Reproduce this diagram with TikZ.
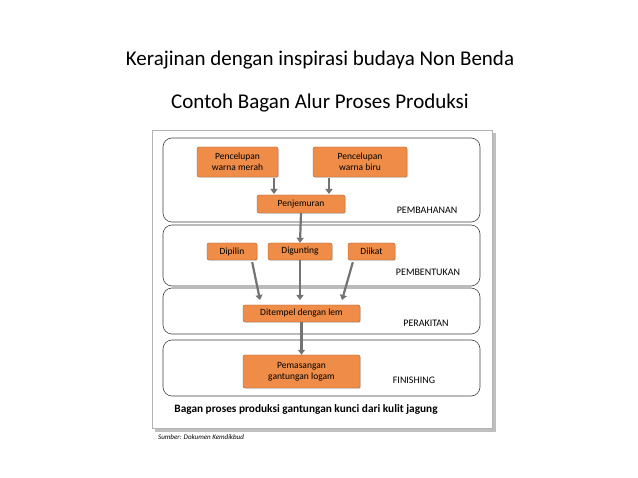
\documentclass[tikz,border=0pt]{standalone}
\usepackage{fontspec}
\setmainfont{Carlito}
\usetikzlibrary{arrows.meta,shadows}
\definecolor{org}{RGB}{238,140,72}
\definecolor{arr}{RGB}{115,115,115}
\tikzset{
 pb/.style={draw=org!70!black,fill=org,rounded corners=2pt,align=center,font=\fontsize{9.5}{11}\selectfont,inner sep=0pt,drop shadow={opacity=0.3,shadow xshift=1pt,shadow yshift=-1pt}},
 band/.style={draw=black!75,rounded corners=9pt,line width=0.6pt},
 ar/.style={draw=arr,line width=2.2pt,-{Triangle[length=5pt,width=7pt]}},
 lab/.style={font=\fontsize{10}{12}\selectfont}
}
\begin{document}
\begin{tikzpicture}[x=1pt,y=-1pt]
\useasboundingbox (0,0) rectangle (638,478);
\node at (320,60) {\fontsize{21}{25}\selectfont Kerajinan dengan inspirasi budaya Non Benda};
\node at (320,103) {\fontsize{21}{25}\selectfont Contoh Bagan Alur Proses Produksi};
\fill[black!25] (155,133) rectangle (496,432);
\filldraw[draw=black!30,fill=white] (152,130) rectangle (492,428);
\draw[band] (163,138) rectangle (480,222);
\draw[band] (163,225) rectangle (480,286);
\draw[band] (163,288) rectangle (480,334);
\draw[band] (163,340) rectangle (480,396);
\node[pb,minimum width=81pt,minimum height=30pt] (m) at (237.5,162) {Pencelupan\\warna merah};
\node[pb,minimum width=94pt,minimum height=30pt] (b) at (360,162) {Pencelupan\\warna biru};
\node[pb,minimum width=88pt,minimum height=18pt] (p) at (301,204) {Penjemuran};
\node[pb,minimum width=50pt,minimum height=17pt] (d1) at (232,251.5) {Dipilin};
\node[pb,minimum width=64pt,minimum height=17pt] (d2) at (300,251.5) {Digunting};
\node[pb,minimum width=47pt,minimum height=17pt] (d3) at (371.5,251.5) {Diikat};
\node[pb,minimum width=117pt,minimum height=17pt] (t) at (301.5,313.5) {Ditempel dengan lem};
\node[pb,minimum width=117pt,minimum height=33pt] (f) at (301.5,371.5) {Pemasangan\\gantungan logam};
\draw[ar] (274,178) -- (274,194);
\draw[ar] (329,178) -- (329,194);
\draw[ar] (p.south) -- (d2.north);
\draw[ar] (d1.south east) ++(-5,2) -- (260,300);
\draw[ar] (d2.south) -- (300,300);
\draw[ar] (d3.south west) ++(5,2) -- (342,300);
\draw[ar] (t.south) -- (f.north);
\node[lab] at (427,210) {PEMBAHANAN};
\node[lab] at (428,272) {PEMBENTUKAN};
\node[lab] at (426,323) {PERAKITAN};
\node[lab] at (414,380) {FINISHING};
\node[font=\fontsize{11.3}{13}\selectfont\bfseries] at (306,409) {Bagan proses produksi gantungan kunci dari kulit jagung};
\node[font=\fontsize{7}{8}\selectfont\itshape] at (201,437) {Sumber: Dokumen Kemdikbud};
\end{tikzpicture}
\end{document}
